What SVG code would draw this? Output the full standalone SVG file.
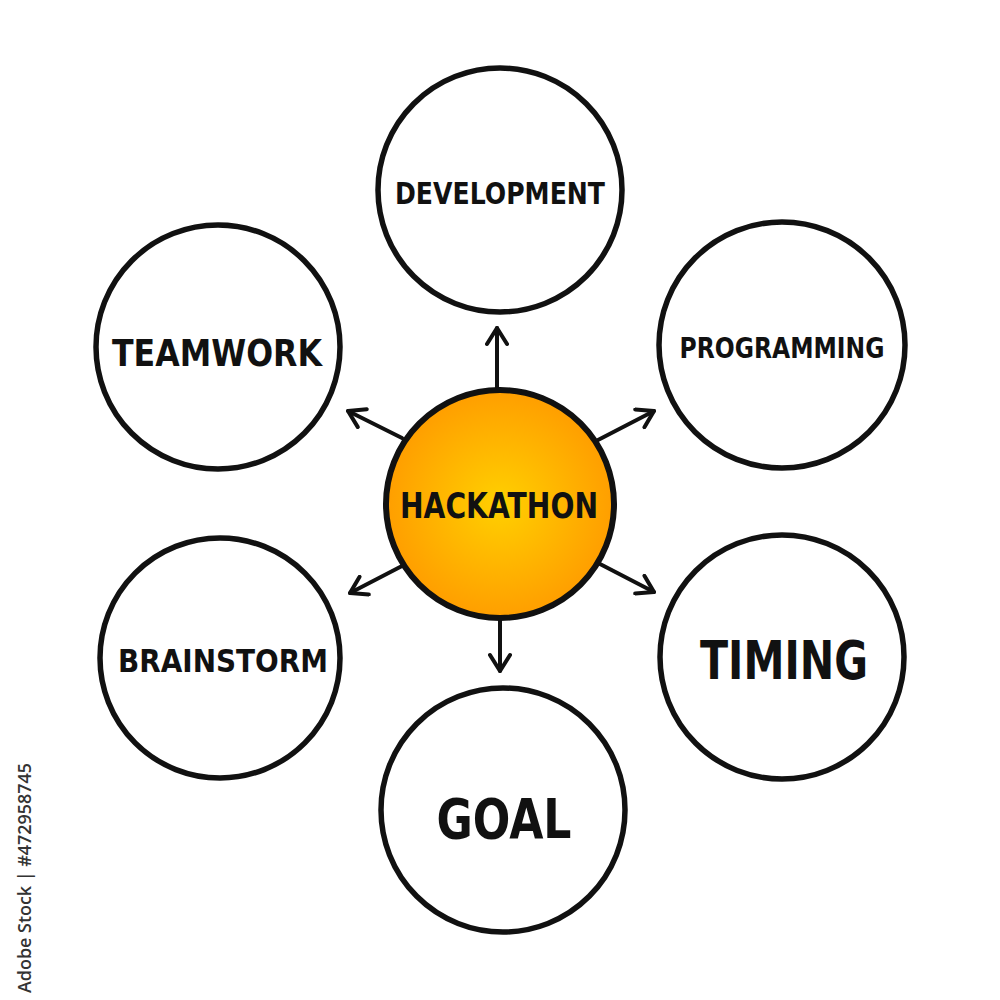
<svg xmlns="http://www.w3.org/2000/svg" width="1000" height="1000" viewBox="0 0 1000 1000">
<style>
.ring{fill:#fff;stroke:#111;stroke-width:5.5}
.lbl{font-family:"DejaVu Sans","Liberation Sans",sans-serif;font-weight:bold;fill:#111;text-anchor:middle}
.con{stroke:#111;stroke-width:4;fill:none;stroke-linecap:round;stroke-linejoin:round}
</style>
<defs>
<radialGradient id="og" cx="50%" cy="50%" r="50%">
<stop offset="0" stop-color="#ffd000"/>
<stop offset="1" stop-color="#ff9e00"/>
</radialGradient>
<marker id="ah" viewBox="0 0 12 12" refX="10" refY="6" markerWidth="6" markerHeight="6" orient="auto" markerUnits="strokeWidth">
<path d="M2,1 L10,6 L2,11" fill="none" stroke="#111" stroke-width="2" stroke-linecap="round" stroke-linejoin="round"/>
</marker>
</defs>
<rect width="1000" height="1000" fill="#fff"/>
<g id="connectors">
<line class="con" x1="497" y1="388" x2="497" y2="328" marker-end="url(#ah)"/>
<line class="con" x1="402" y1="438" x2="348" y2="411" marker-end="url(#ah)"/>
<line class="con" x1="598" y1="440" x2="654" y2="411" marker-end="url(#ah)"/>
<line class="con" x1="402" y1="566" x2="350" y2="593" marker-end="url(#ah)"/>
<line class="con" x1="600" y1="564" x2="654" y2="592" marker-end="url(#ah)"/>
<line class="con" x1="500" y1="617" x2="500" y2="671" marker-end="url(#ah)"/>
</g>
<g id="center">
<circle cx="500" cy="504" r="114" fill="url(#og)" stroke="#111" stroke-width="6"/>
<text class="lbl" x="499" y="518" font-size="36" textLength="198" lengthAdjust="spacingAndGlyphs">HACKATHON</text>
</g>
<g id="development">
<circle class="ring" cx="500" cy="190" r="122"/>
<text class="lbl" x="500" y="204" font-size="30" textLength="210" lengthAdjust="spacingAndGlyphs">DEVELOPMENT</text>
</g>
<g id="teamwork">
<circle class="ring" cx="218" cy="347" r="122"/>
<text class="lbl" x="217" y="366" font-size="38" textLength="210" lengthAdjust="spacingAndGlyphs">TEAMWORK</text>
</g>
<g id="programming">
<circle class="ring" cx="782" cy="345" r="123"/>
<text class="lbl" x="782" y="358" font-size="29" textLength="205" lengthAdjust="spacingAndGlyphs">PROGRAMMING</text>
</g>
<g id="brainstorm">
<circle class="ring" cx="220" cy="658" r="120"/>
<text class="lbl" x="223" y="672" font-size="32" textLength="210" lengthAdjust="spacingAndGlyphs">BRAINSTORM</text>
</g>
<g id="timing">
<circle class="ring" cx="782" cy="657" r="122"/>
<text class="lbl" x="784" y="679" font-size="54" textLength="168" lengthAdjust="spacingAndGlyphs">TIMING</text>
</g>
<g id="goal">
<circle class="ring" cx="503" cy="810" r="122"/>
<text class="lbl" x="504" y="838" font-size="56" textLength="135" lengthAdjust="spacingAndGlyphs">GOAL</text>
</g>
<text x="31" y="993" transform="rotate(-90 31 993)" font-family="'Open Sans','Noto Sans',sans-serif" font-weight="600" font-size="18" fill="#333" textLength="230" lengthAdjust="spacingAndGlyphs">Adobe Stock | #472958745</text>
</svg>
